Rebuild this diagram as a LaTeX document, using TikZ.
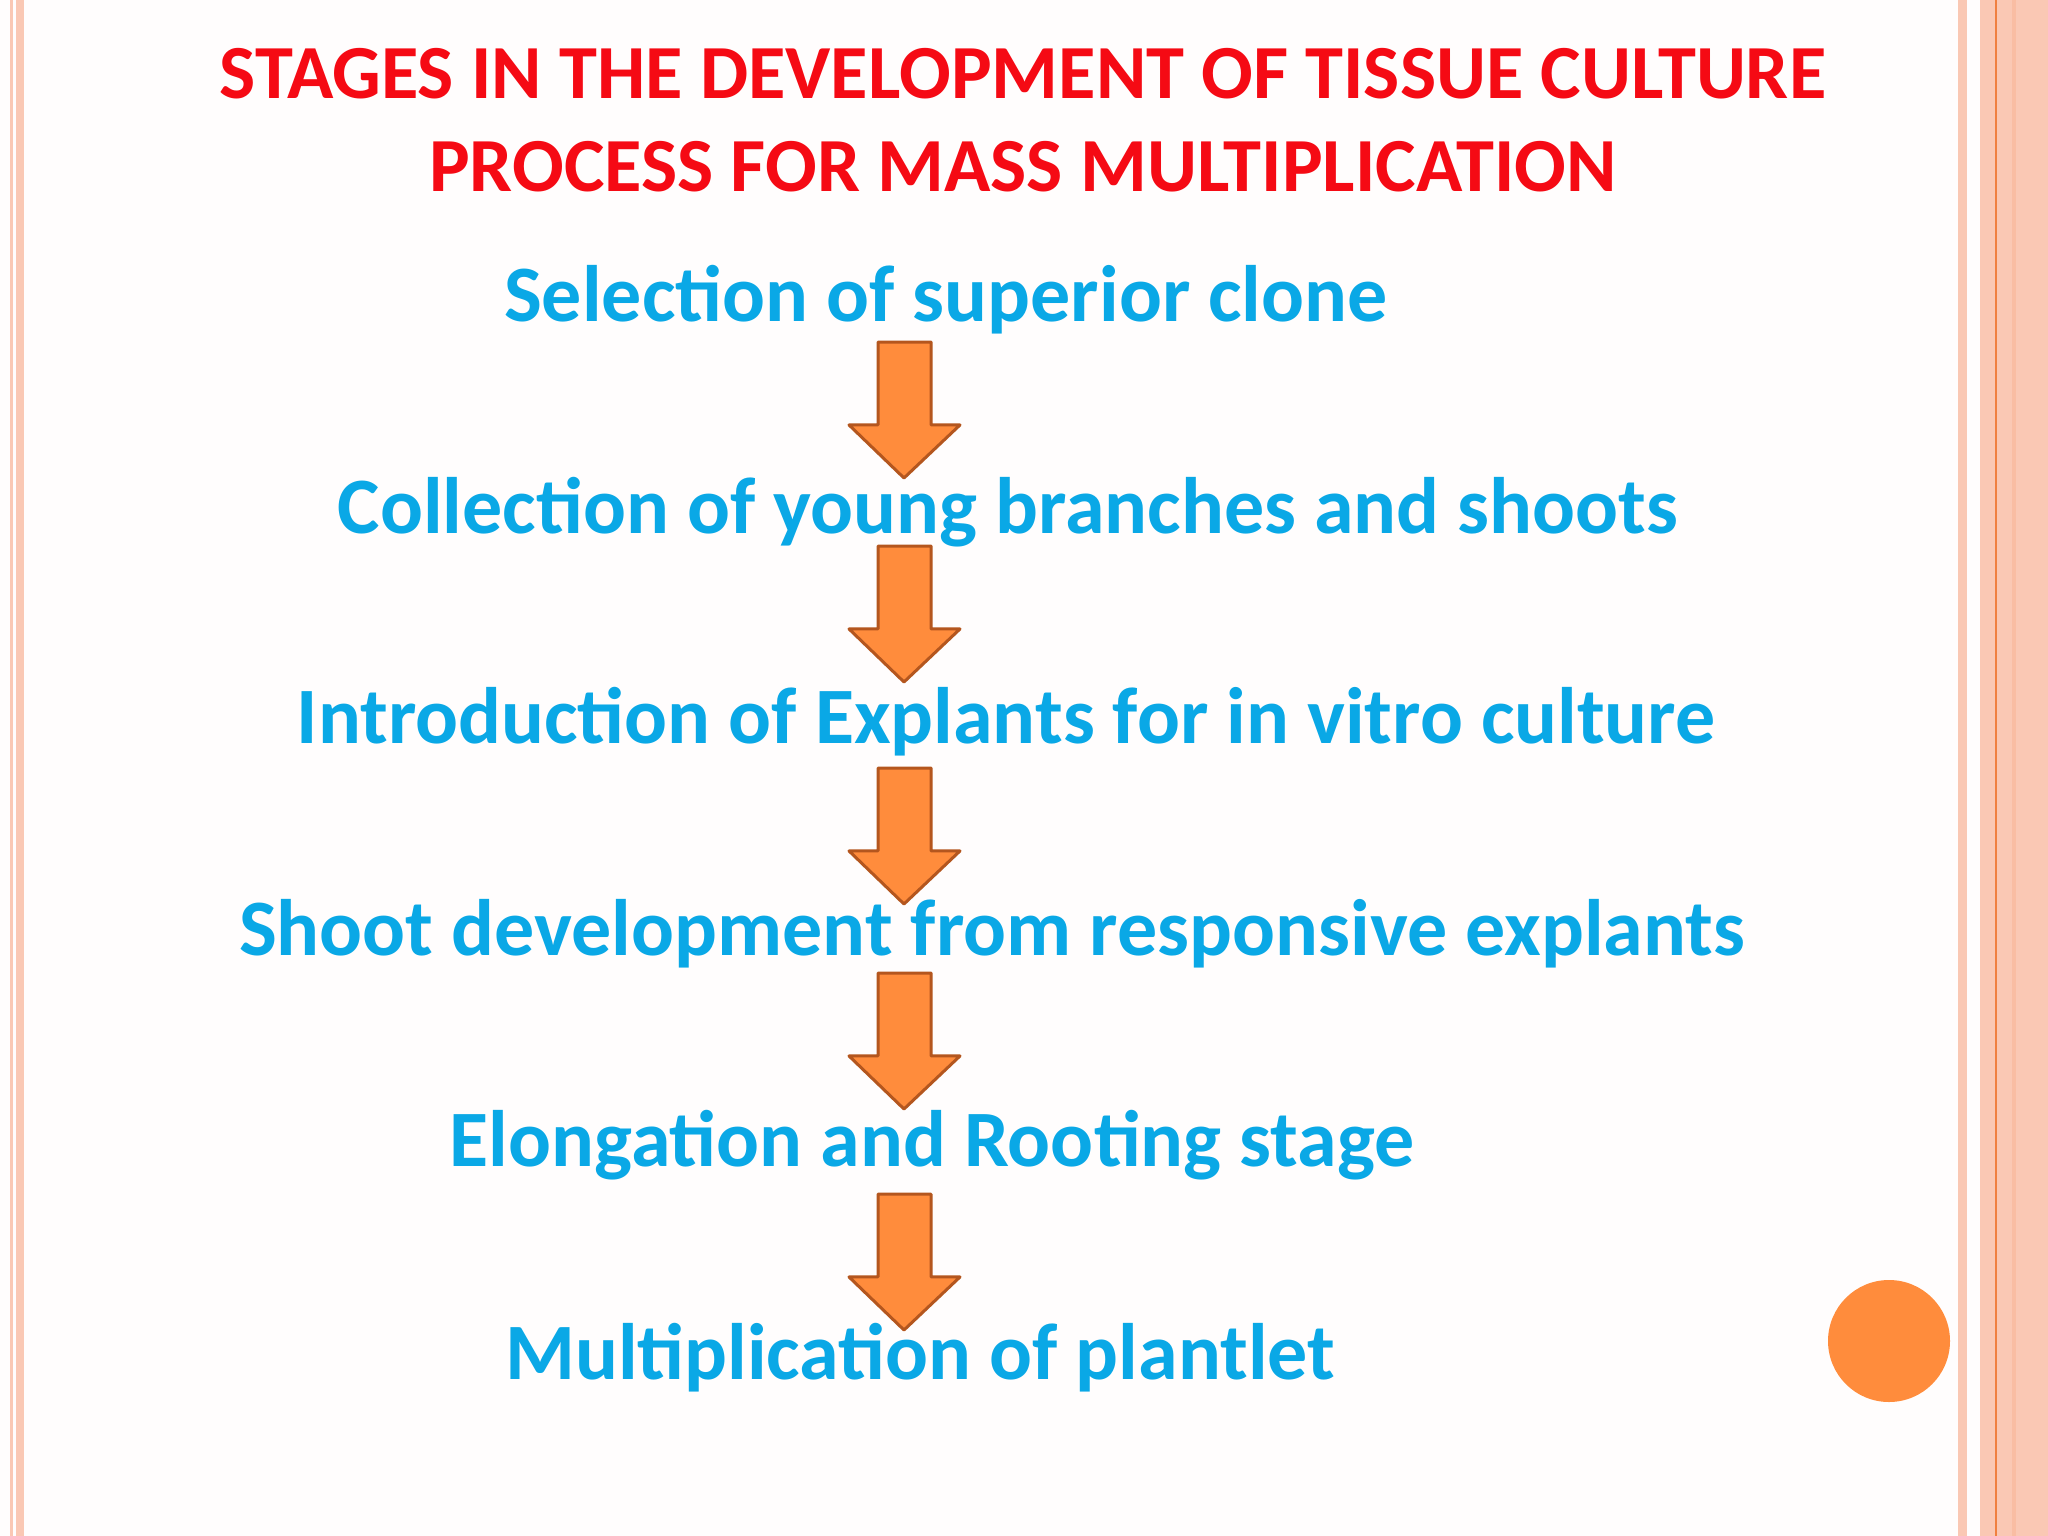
\documentclass[tikz,border=0pt]{standalone}
\usepackage{fontspec}
\setmainfont{Carlito}
\definecolor{stripe}{HTML}{FAC8B4}
\definecolor{oline}{HTML}{F08040}
\definecolor{ttl}{HTML}{F50A14}
\definecolor{stp}{HTML}{0AA8E6}
\definecolor{arrfill}{HTML}{FF8C3C}
\definecolor{arrdraw}{HTML}{B4561E}
\begin{document}
\begin{tikzpicture}[x=1pt,y=-1pt,
  title/.style={text=ttl,font=\fontsize{76.5}{90}\selectfont\bfseries},
  stage/.style={text=stp,font=\fontsize{80}{96}\selectfont\bfseries},
  arr/.style={fill=arrfill,draw=arrdraw,line width=3pt,line join=round}]
\useasboundingbox (0,0) rectangle (2048,1536);
\fill[white!97!stripe] (0,0) rectangle (2048,1536);
\fill[stripe] (10,0) rectangle (13,1536);
\fill[stripe] (16,0) rectangle (24,1536);
\fill[stripe] (1958,0) rectangle (1967,1536);
\fill[stripe] (1980,0) rectangle (2048,1536);
\fill[stripe!85!oline] (2012,0) rectangle (2016,1536);
\draw[oline,line width=1.5pt] (1996,0) -- (1996,1536);
\node[title] (t1) at (1023,74) {STAGES IN THE DEVELOPMENT OF TISSUE CULTURE};
\node[title] (t2) at (1023,167) {PROCESS FOR MASS MULTIPLICATION};
\node[stage] (s1) at (946,300) {Selection of superior clone};
\node[stage] (s2) at (1008,512) {Collection of young branches and shoots};
\node[stage] (s3) at (1006,722) {Introduction of Explants for in vitro culture};
\node[stage] (s4) at (992,934) {Shoot development from responsive explants};
\node[stage] (s5) at (932,1145) {Elongation and Rooting stage};
\node[stage] (s6) at (920,1358) {Multiplication of plantlet};
\foreach \t/\b in {342/478,546/682,768/904,973/1109,1194/1330}{
  \pgfmathsetmacro\h{\t+0.61*(\b-\t)}
  \draw[arr] (878,\t) -- (931,\t) -- (931,\h) -- (960,\h) -- (904,\b) -- (849,\h) -- (878,\h) -- cycle;
}
\fill[arrfill] (1889,1341) circle (61);
\end{tikzpicture}
\end{document}
